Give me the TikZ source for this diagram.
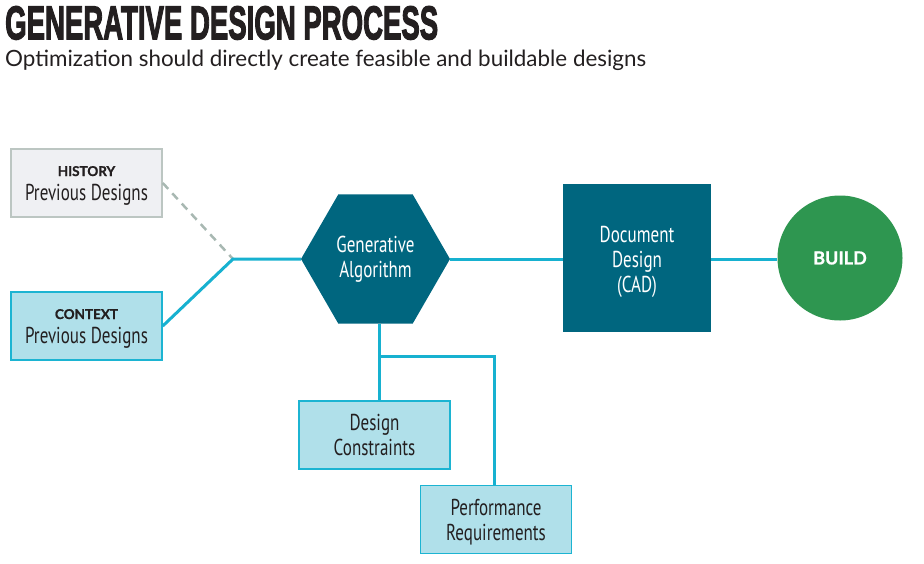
\documentclass[tikz,border=0pt]{standalone}
\usepackage{fontspec}
\usepackage{graphicx}
\setmainfont{Lato}
\newfontfamily\condfont[FakeStretch=0.74]{PT Sans}
\newfontfamily\headfont[FakeBold=3]{Liberation Sans}
\newfontfamily\labfont{Lato}
\newfontfamily\labboldfont[FakeBold=1]{Lato}
\usetikzlibrary{shapes.geometric}
\definecolor{teal}{HTML}{00667F}
\definecolor{cyanline}{HTML}{17B1D0}
\definecolor{cyanfill}{HTML}{B0E0EA}
\definecolor{cyanedge}{HTML}{1CB4D2}
\definecolor{grayfill}{HTML}{EFF0F3}
\definecolor{grayedge}{HTML}{BCC6C2}
\definecolor{dashgray}{HTML}{A8B8B2}
\definecolor{buildgreen}{HTML}{2E9650}
\definecolor{ink}{HTML}{231F20}
\tikzset{
  cond/.style={font=\condfont\fontsize{23}{25}\selectfont, align=center},
  graybox/.style={draw=grayedge, fill=grayfill, line width=1.5pt, minimum width=151pt, minimum height=68pt, inner sep=0pt, text=ink},
  cyanbox/.style={draw=cyanedge, fill=cyanfill, line width=1.5pt, minimum width=151pt, minimum height=68pt, inner sep=0pt, text=ink},
  conn/.style={draw=cyanline, line width=3pt},
  darkshape/.style={fill=teal, text=white, inner sep=0pt},
}
\begin{document}
\begin{tikzpicture}[x=1pt, y=-1pt]
\useasboundingbox (0,0) rectangle (924,563);
% title
\node[anchor=north west, inner sep=0pt, text=ink] (title) at (5,6)
  {\resizebox{433pt}{33pt}{\headfont\bfseries GENERATIVE DESIGN PROCESS}};
\node[anchor=north west, inner sep=0pt, text=ink] (subtitle) at (5,50)
  {\resizebox{641pt}{!}{\labfont\fontsize{20}{24}\selectfont Optimization should directly create feasible and buildable designs}};
% left boxes
\node[graybox, cond] (history) at (86.5,183)
  {\begin{tabular}{@{}c@{}}{\labboldfont\bfseries\fontsize{13.5}{15}\selectfont HISTORY}\\[-1pt]Previous Designs\end{tabular}};
\node[cyanbox, cond] (context) at (86.5,326)
  {\begin{tabular}{@{}c@{}}{\labboldfont\bfseries\fontsize{13.5}{15}\selectfont CONTEXT}\\[-1pt]Previous Designs\end{tabular}};
% hexagon
\node[darkshape, regular polygon, regular polygon sides=6, minimum size=149pt, cond] (hex) at (375.5,259)
  {Generative\\Algorithm};
% document
\node[darkshape, minimum width=148pt, minimum height=148pt, cond] (doc) at (637,258)
  {\raisebox{-4pt}[\height][\depth]{\begin{tabular}{@{}c@{}}Document\\Design\\(CAD)\end{tabular}}};
% build
\node[circle, fill=buildgreen, minimum size=125pt, inner sep=0pt, text=white,
  font=\labboldfont\bfseries\fontsize{18}{20}\selectfont] (build) at (840,258) {BUILD};
% bottom boxes
\node[cyanbox, cond] (cons) at (374.5,435) {Design\\Constraints};
\node[cyanbox, cond] (perf) at (496,519.5)
  {\raisebox{-3pt}[\height][\depth]{\begin{tabular}{@{}c@{}}Performance\\Requirements\end{tabular}}};
% connectors
\coordinate (junc) at (233,259);
\coordinate (branch) at (379,356);
\draw[draw=dashgray, line width=2.5pt, dash pattern=on 8pt off 6pt] (history.east) -- (junc);
\draw[conn] (context.east) -- (junc) -- (hex.west);
\draw[conn] (hex.east) -- (hex.east -| doc.west);
\draw[conn] (doc.east |- hex.east) -- (build.west |- hex.east);
\draw[conn] (hex.south -| branch) -- (branch |- cons.north);
\draw[conn] (branch) -| (perf.north -| 494,0);
\end{tikzpicture}
\end{document}
